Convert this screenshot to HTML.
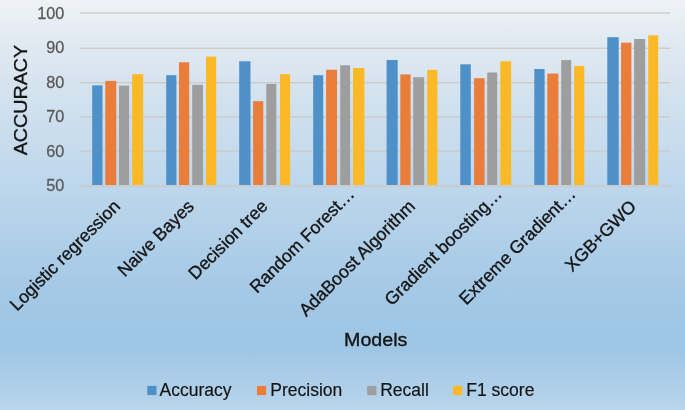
<!DOCTYPE html>
<html><head><meta charset="utf-8"><title>Model accuracy chart</title>
<style>
html,body{margin:0;padding:0;background:#fff;}
body{width:685px;height:410px;overflow:hidden;}
svg{display:block;font-family:"Liberation Sans",Arial,sans-serif;}
</style></head><body>
<svg width="685" height="410" viewBox="0 0 685 410">
<defs>
<linearGradient id="bg" x1="0" y1="0" x2="0" y2="1">
<stop offset="0" stop-color="#eef2f5"/>
<stop offset="0.112" stop-color="#e0e9f1"/>
<stop offset="0.28" stop-color="#cedfee"/>
<stop offset="0.449" stop-color="#bed7ec"/>
<stop offset="0.683" stop-color="#a6cae6"/>
<stop offset="0.80" stop-color="#9fc6e5"/>
<stop offset="0.85" stop-color="#9fc6e5"/>
<stop offset="1" stop-color="#b8d5eb"/>
</linearGradient>
</defs>
<rect width="685" height="410" fill="url(#bg)"/>

<rect x="80.1" y="12.38" width="590.2" height="1.35" fill="#cccbc8"/>
<rect x="80.1" y="47.58" width="590.2" height="1.35" fill="#cccbc8"/>
<rect x="80.1" y="81.97" width="590.2" height="1.35" fill="#cccbc8"/>
<rect x="80.1" y="116.28" width="590.2" height="1.35" fill="#cccbc8"/>
<rect x="80.1" y="150.38" width="590.2" height="1.35" fill="#cccbc8"/>
<rect x="80.1" y="185.25" width="590.2" height="1.7" fill="#cccbc8"/>
<rect x="92.2" y="85.4" width="10.3" height="99.6" fill="#4e91c9"/>
<rect x="105.3" y="80.9" width="11.0" height="104.1" fill="#ea7d3a"/>
<rect x="119.0" y="85.6" width="10.1" height="99.4" fill="#9e9e9f"/>
<rect x="132.1" y="74.2" width="11.1" height="110.8" fill="#fbb928"/>
<rect x="166.2" y="75.2" width="10.2" height="109.8" fill="#4e91c9"/>
<rect x="179.0" y="62.3" width="10.2" height="122.7" fill="#ea7d3a"/>
<rect x="192.2" y="84.8" width="10.8" height="100.2" fill="#9e9e9f"/>
<rect x="206.0" y="56.6" width="10.2" height="128.4" fill="#fbb928"/>
<rect x="239.2" y="61.3" width="11.3" height="123.7" fill="#4e91c9"/>
<rect x="253.1" y="101.2" width="10.2" height="83.8" fill="#ea7d3a"/>
<rect x="266.3" y="83.9" width="10.0" height="101.1" fill="#9e9e9f"/>
<rect x="280.0" y="74.2" width="10.1" height="110.8" fill="#fbb928"/>
<rect x="313.2" y="75.2" width="10.0" height="109.8" fill="#4e91c9"/>
<rect x="326.1" y="69.7" width="10.9" height="115.3" fill="#ea7d3a"/>
<rect x="340.2" y="65.3" width="9.9" height="119.7" fill="#9e9e9f"/>
<rect x="353.0" y="68.0" width="11.4" height="117.0" fill="#fbb928"/>
<rect x="386.6" y="60.0" width="11.1" height="125.0" fill="#4e91c9"/>
<rect x="400.3" y="74.4" width="10.3" height="110.6" fill="#ea7d3a"/>
<rect x="413.2" y="77.2" width="11.0" height="107.8" fill="#9e9e9f"/>
<rect x="427.2" y="69.8" width="10.2" height="115.2" fill="#fbb928"/>
<rect x="460.3" y="64.3" width="10.5" height="120.7" fill="#4e91c9"/>
<rect x="474.1" y="78.2" width="10.5" height="106.8" fill="#ea7d3a"/>
<rect x="487.2" y="72.5" width="10.0" height="112.5" fill="#9e9e9f"/>
<rect x="500.3" y="61.3" width="10.9" height="123.7" fill="#fbb928"/>
<rect x="534.3" y="69.0" width="10.3" height="116.0" fill="#4e91c9"/>
<rect x="547.3" y="73.6" width="11.1" height="111.4" fill="#ea7d3a"/>
<rect x="561.2" y="60.1" width="10.0" height="124.9" fill="#9e9e9f"/>
<rect x="574.1" y="66.0" width="10.2" height="119.0" fill="#fbb928"/>
<rect x="607.3" y="37.2" width="11.4" height="147.8" fill="#4e91c9"/>
<rect x="621.1" y="42.7" width="10.3" height="142.3" fill="#ea7d3a"/>
<rect x="634.1" y="39.0" width="11.1" height="146.0" fill="#9e9e9f"/>
<rect x="648.2" y="35.3" width="10.0" height="149.7" fill="#fbb928"/>
<text transform="translate(64.2,18.5) scale(0.955,1)" font-size="17" fill="#5a5a5a" stroke="#5a5a5a" stroke-width="0.3" text-anchor="end">100</text>
<text transform="translate(64.2,53.3) scale(0.955,1)" font-size="17" fill="#5a5a5a" stroke="#5a5a5a" stroke-width="0.3" text-anchor="end">90</text>
<text transform="translate(64.2,87.9) scale(0.955,1)" font-size="17" fill="#5a5a5a" stroke="#5a5a5a" stroke-width="0.3" text-anchor="end">80</text>
<text transform="translate(64.2,121.7) scale(0.955,1)" font-size="17" fill="#5a5a5a" stroke="#5a5a5a" stroke-width="0.3" text-anchor="end">70</text>
<text transform="translate(64.2,157.1) scale(0.955,1)" font-size="17" fill="#5a5a5a" stroke="#5a5a5a" stroke-width="0.3" text-anchor="end">60</text>
<text transform="translate(64.2,190.8) scale(0.955,1)" font-size="17" fill="#5a5a5a" stroke="#5a5a5a" stroke-width="0.3" text-anchor="end">50</text>
<text transform="translate(27.1,100.1) rotate(-90) scale(1.042,1)" font-size="18.9" fill="#141414" stroke="#141414" stroke-width="0.35" text-anchor="middle">ACCURACY</text>
<text transform="translate(121.2,207.4) rotate(-45)" font-size="17.7" fill="#141414" stroke="#141414" stroke-width="0.35" text-anchor="end">Logistic regression</text>
<text transform="translate(194.9,207.4) rotate(-45)" font-size="17.7" fill="#141414" stroke="#141414" stroke-width="0.35" text-anchor="end">Naive Bayes</text>
<text transform="translate(268.6,207.4) rotate(-45)" font-size="17.7" fill="#141414" stroke="#141414" stroke-width="0.35" text-anchor="end">Decision tree</text>
<text transform="translate(355.6,195.2) rotate(-45)" font-size="17.7" fill="#141414" stroke="#141414" stroke-width="0.35" text-anchor="end">Random Forest…</text>
<text transform="translate(416.1,207.4) rotate(-45)" font-size="17.7" fill="#141414" stroke="#141414" stroke-width="0.35" text-anchor="end">AdaBoost Algorithm</text>
<text transform="translate(503.1,195.2) rotate(-45)" font-size="17.7" fill="#141414" stroke="#141414" stroke-width="0.35" text-anchor="end">Gradient boosting…</text>
<text transform="translate(576.8,195.2) rotate(-45)" font-size="17.7" fill="#141414" stroke="#141414" stroke-width="0.35" text-anchor="end">Extreme Gradient…</text>
<text transform="translate(637.3,207.4) rotate(-45)" font-size="17.7" fill="#141414" stroke="#141414" stroke-width="0.35" text-anchor="end">XGB+GWO</text>
<text transform="translate(375.7,346.4) scale(1.04,1)" font-size="18.9" fill="#141414" stroke="#141414" stroke-width="0.35" text-anchor="middle">Models</text>
<rect x="147.3" y="385.9" width="9.2" height="9.2" fill="#4e91c9"/>
<text x="159.6" y="396" font-size="17.5" fill="#141414" stroke="#141414" stroke-width="0.18">Accuracy</text>
<rect x="257.0" y="385.9" width="9.2" height="9.2" fill="#ea7d3a"/>
<text x="270.29999999999995" y="396" font-size="17.5" fill="#141414" stroke="#141414" stroke-width="0.18">Precision</text>
<rect x="367.2" y="385.9" width="9.2" height="9.2" fill="#9e9e9f"/>
<text x="380.2" y="396" font-size="17.5" fill="#141414" stroke="#141414" stroke-width="0.18">Recall</text>
<rect x="453.0" y="385.9" width="9.2" height="9.2" fill="#fbb928"/>
<text x="466.29999999999995" y="396" font-size="17.5" fill="#141414" stroke="#141414" stroke-width="0.18">F1 score</text>
</svg></body></html>
